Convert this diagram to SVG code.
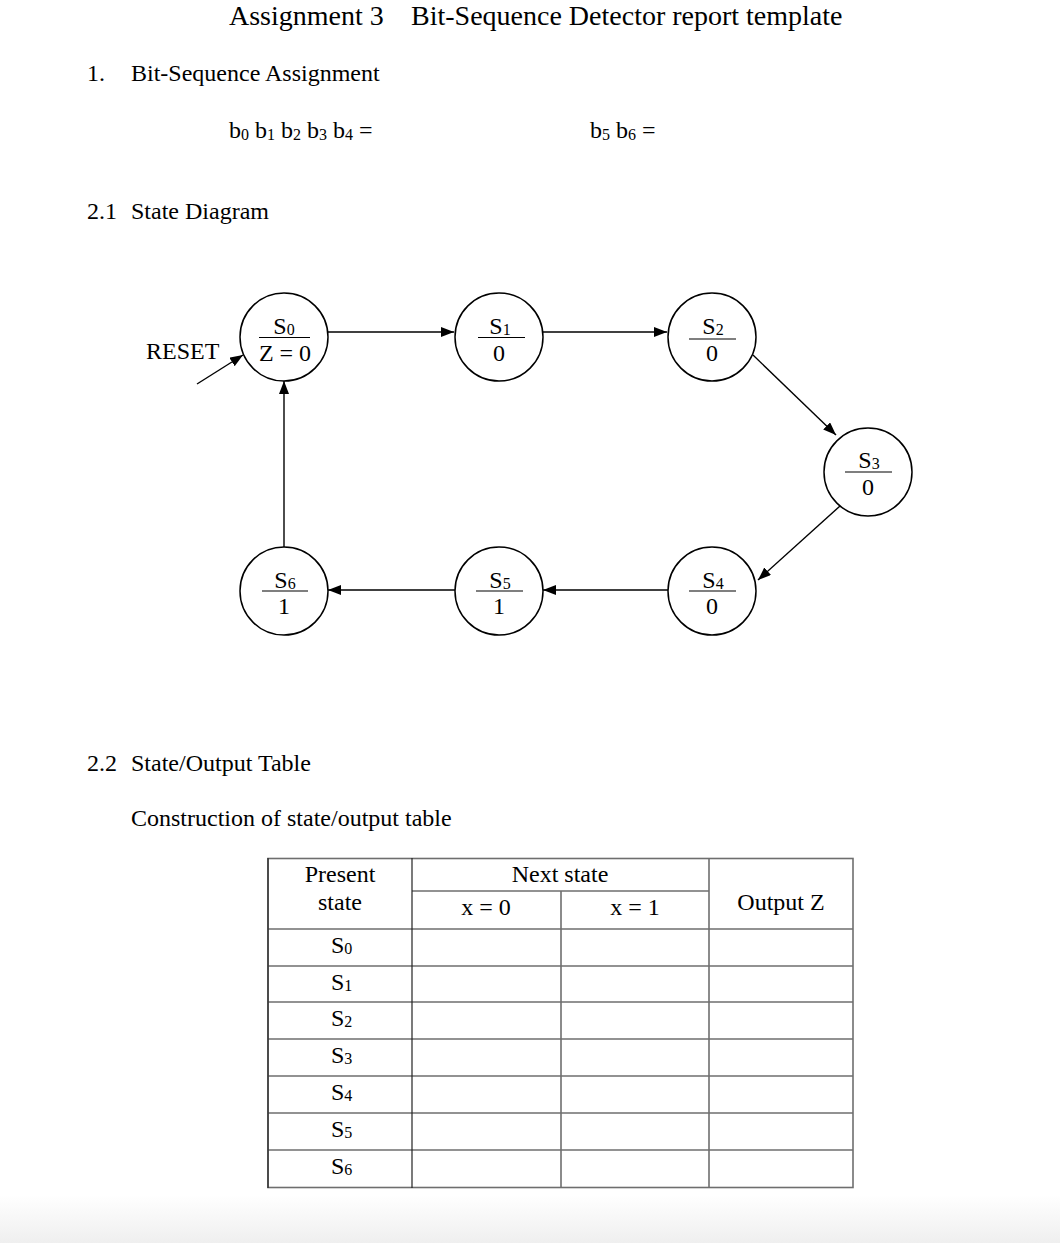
<svg xmlns="http://www.w3.org/2000/svg" width="1060" height="1243" viewBox="0 0 1060 1243">
<style>
text{font-family:"Liberation Serif","Times New Roman",serif;font-size:24px;fill:#000}
.title{font-size:28px}
.sub{font-size:16px}
.st{fill:#fff;stroke:#000;stroke-width:1.5}
.sep{stroke:#000;stroke-width:1.2}
.conn{stroke:#000;stroke-width:1.4;fill:none;marker-end:url(#ah)}
.tb{stroke:#6e6e6e;stroke-width:1.6;fill:none}
.tc{stroke:#222;stroke-width:1.2;fill:none}
</style>
<defs>
<marker id="ah" markerUnits="userSpaceOnUse" markerWidth="14" markerHeight="11" refX="13" refY="5" orient="auto">
<path d="M0,0 L13,5 L0,10 z" fill="#000"/>
</marker>
<linearGradient id="bg" x1="0" y1="0" x2="0" y2="1">
<stop offset="0" stop-color="#fff"/>
<stop offset="1" stop-color="#efefef"/>
</linearGradient>
</defs>
<rect x="0" y="0" width="1060" height="1243" fill="#fff"/>
<rect x="0" y="1195" width="1060" height="48" fill="url(#bg)"/>

<text class="title" x="229" y="25">Assignment 3</text>
<text class="title" x="411" y="25">Bit-Sequence Detector report template</text>
<text x="87" y="81">1.</text>
<text x="131" y="81">Bit-Sequence Assignment</text>
<text x="229" y="138">b<tspan class="sub" dy="2">0</tspan><tspan dy="-2"> b</tspan><tspan class="sub" dy="2">1</tspan><tspan dy="-2"> b</tspan><tspan class="sub" dy="2">2</tspan><tspan dy="-2"> b</tspan><tspan class="sub" dy="2">3</tspan><tspan dy="-2"> b</tspan><tspan class="sub" dy="2">4</tspan><tspan dy="-2"> =</tspan></text>
<text x="590" y="138">b<tspan class="sub" dy="2">5</tspan><tspan dy="-2"> b</tspan><tspan class="sub" dy="2">6</tspan><tspan dy="-2"> =</tspan></text>
<text x="87" y="219">2.1</text>
<text x="131" y="219">State Diagram</text>

<g id="connectors">
<line class="conn" x1="197" y1="384" x2="243" y2="355"/>
<line class="conn" x1="328" y1="332" x2="454" y2="332"/>
<line class="conn" x1="543" y1="332" x2="667" y2="332"/>
<line class="conn" x1="753" y1="355" x2="836" y2="435"/>
<line class="conn" x1="840" y1="506" x2="758" y2="580"/>
<line class="conn" x1="668" y1="590" x2="543" y2="590"/>
<line class="conn" x1="455" y1="590" x2="328" y2="590"/>
<line class="conn" x1="284" y1="547" x2="284" y2="381"/>
</g>
<text x="146" y="359">RESET</text>

<g id="S0">
<circle class="st" cx="284" cy="337" r="44"/>
<text x="284" y="334" text-anchor="middle">S<tspan class="sub" dy="1">0</tspan></text>
<line class="sep" x1="259" y1="337.5" x2="310" y2="337.5"/>
<text x="285" y="361" text-anchor="middle">Z = 0</text>
</g>
<g id="S1">
<circle class="st" cx="499" cy="337" r="44"/>
<text x="500" y="334" text-anchor="middle">S<tspan class="sub" dy="1">1</tspan></text>
<line class="sep" x1="478" y1="337.5" x2="525" y2="337.5"/>
<text x="499" y="361" text-anchor="middle">0</text>
</g>
<g id="S2">
<circle class="st" cx="712" cy="337" r="44"/>
<text x="713" y="334" text-anchor="middle">S<tspan class="sub" dy="1">2</tspan></text>
<line class="sep" x1="689" y1="339" x2="736" y2="339"/>
<text x="712" y="361" text-anchor="middle">0</text>
</g>
<g id="S3">
<circle class="st" cx="868" cy="472" r="44"/>
<text x="869" y="468" text-anchor="middle">S<tspan class="sub" dy="1">3</tspan></text>
<line class="sep" x1="845" y1="472" x2="892" y2="472"/>
<text x="868" y="495" text-anchor="middle">0</text>
</g>
<g id="S4">
<circle class="st" cx="712" cy="591" r="44"/>
<text x="713" y="588" text-anchor="middle">S<tspan class="sub" dy="1">4</tspan></text>
<line class="sep" x1="689" y1="591" x2="736" y2="591"/>
<text x="712" y="614" text-anchor="middle">0</text>
</g>
<g id="S5">
<circle class="st" cx="499" cy="591" r="44"/>
<text x="500" y="588" text-anchor="middle">S<tspan class="sub" dy="1">5</tspan></text>
<line class="sep" x1="476" y1="591" x2="523" y2="591"/>
<text x="499" y="614" text-anchor="middle">1</text>
</g>
<g id="S6">
<circle class="st" cx="284" cy="591" r="44"/>
<text x="285" y="588" text-anchor="middle">S<tspan class="sub" dy="1">6</tspan></text>
<line class="sep" x1="262" y1="591" x2="308" y2="591"/>
<text x="284" y="614" text-anchor="middle">1</text>
</g>

<text x="87" y="771">2.2</text>
<text x="131" y="771">State/Output Table</text>
<text x="131" y="826">Construction of state/output table</text>

<g id="table">
<rect class="tb" x="268" y="858.5" width="585" height="329"/>
<line class="tb" x1="412" y1="891" x2="709" y2="891"/>
<line class="tb" x1="268" y1="929" x2="853" y2="929"/>
<line class="tb" x1="268" y1="966" x2="853" y2="966"/>
<line class="tb" x1="268" y1="1002" x2="853" y2="1002"/>
<line class="tb" x1="268" y1="1039" x2="853" y2="1039"/>
<line class="tb" x1="268" y1="1076" x2="853" y2="1076"/>
<line class="tb" x1="268" y1="1113" x2="853" y2="1113"/>
<line class="tb" x1="268" y1="1150" x2="853" y2="1150"/>
<line class="tc" x1="268" y1="858" x2="268" y2="1188"/>
<line class="tc" x1="412" y1="858" x2="412" y2="1188"/>
<line class="tb" x1="561" y1="891" x2="561" y2="1188"/>
<line class="tb" x1="709" y1="858" x2="709" y2="1188"/>
<text x="340" y="882" text-anchor="middle">Present</text>
<text x="340" y="910" text-anchor="middle">state</text>
<text x="560" y="882" text-anchor="middle">Next state</text>
<text x="486" y="915" text-anchor="middle">x = 0</text>
<text x="635" y="915" text-anchor="middle">x = 1</text>
<text x="781" y="910" text-anchor="middle">Output Z</text>
<text x="331" y="953">S<tspan class="sub" dy="1">0</tspan></text>
<text x="331" y="990">S<tspan class="sub" dy="1">1</tspan></text>
<text x="331" y="1026">S<tspan class="sub" dy="1">2</tspan></text>
<text x="331" y="1063">S<tspan class="sub" dy="1">3</tspan></text>
<text x="331" y="1100">S<tspan class="sub" dy="1">4</tspan></text>
<text x="331" y="1137">S<tspan class="sub" dy="1">5</tspan></text>
<text x="331" y="1174">S<tspan class="sub" dy="1">6</tspan></text>
</g>
</svg>
